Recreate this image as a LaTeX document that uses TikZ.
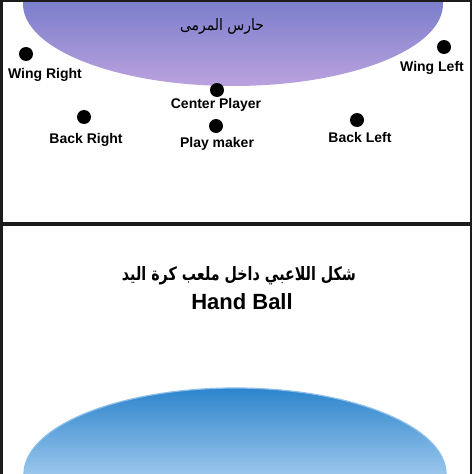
\documentclass[tikz,border=0pt]{standalone}
\usepackage{fontspec}
\usepackage{graphicx}
\setmainfont{Liberation Sans}
\newfontfamily\arabicfont[Script=Arabic]{DejaVu Sans}
\TeXXeTstate=1
\definecolor{gkTop}{RGB}{122,126,204}
\definecolor{gkBot}{RGB}{188,162,222}
\definecolor{blTop}{RGB}{44,132,204}
\definecolor{blBot}{RGB}{152,198,236}
\definecolor{blEdge}{RGB}{140,190,236}
\definecolor{frameCol}{RGB}{28,28,28}
\begin{document}
\begin{tikzpicture}[x=1pt,y=-1pt,
  dot/.style={circle,fill=black,minimum size=14pt,inner sep=0pt},
  lab/.style={font=\fontsize{14}{16}\selectfont\bfseries, inner sep=0pt},
  panel/.style={draw=frameCol, line width=2.6pt}]
\useasboundingbox (0,0) rectangle (474,474);
\fill[white] (0,0) rectangle (474,474);
% goalkeeper area
\begin{scope}
  \clip (233,4) ellipse [x radius=210pt, y radius=82pt];
  \shade[top color=gkTop, bottom color=gkBot] (20,0) rectangle (446,87);
\end{scope}
\node[inner sep=0pt, anchor=base] (gk) at (222,30) {\resizebox{84pt}{12pt}{\arabicfont\fontsize{16}{18}\selectfont\beginR حارس المرمى\endR}};
% players
\node[dot] (wr) at (26,54) {};
\node[dot] (wl) at (444,47) {};
\node[dot] (cp) at (217,90) {};
\node[dot] (br) at (84,117) {};
\node[dot] (pm) at (216,126) {};
\node[dot] (bl) at (357,120) {};
\node[lab] (wrl) at (45,75) {Wing Right};
\node[lab] (wll) at (432,68) {Wing Left};
\node[lab] (cpl) at (216,105) {Center Player};
\node[lab] (brl) at (86,140) {Back Right};
\node[lab] (pml) at (217,144) {Play maker};
\node[lab] (bll) at (360,137) {Back Left};
% bottom panel
\begin{scope}
  \clip (235,474) ellipse [x radius=211pt, y radius=86pt];
  \shade[top color=blTop, bottom color=blBot] (20,387) rectangle (450,474);
\end{scope}
\draw[blEdge, line width=1.2pt] (235,474) ellipse [x radius=211pt, y radius=86pt];
\node[inner sep=0pt, anchor=base] (title) at (239,280) {\resizebox{234pt}{14pt}{\arabicfont\bfseries\fontsize{20}{24}\selectfont\beginR شكل اللاعبي داخل ملعب كرة اليد\endR}};
\node[inner sep=0pt, font=\fontsize{22}{26}\selectfont\bfseries] (hb) at (242,302) {Hand Ball};
% frames
\draw[panel] (1.5,0.6) rectangle (470.8,223.4);
\draw[draw=frameCol, line width=1.6pt] (1.5,225.6) rectangle (470.8,480);
\draw[draw=frameCol, line width=2.6pt] (1.5,225) -- (1.5,480) (470.8,225) -- (470.8,480);
\end{tikzpicture}
\end{document}
